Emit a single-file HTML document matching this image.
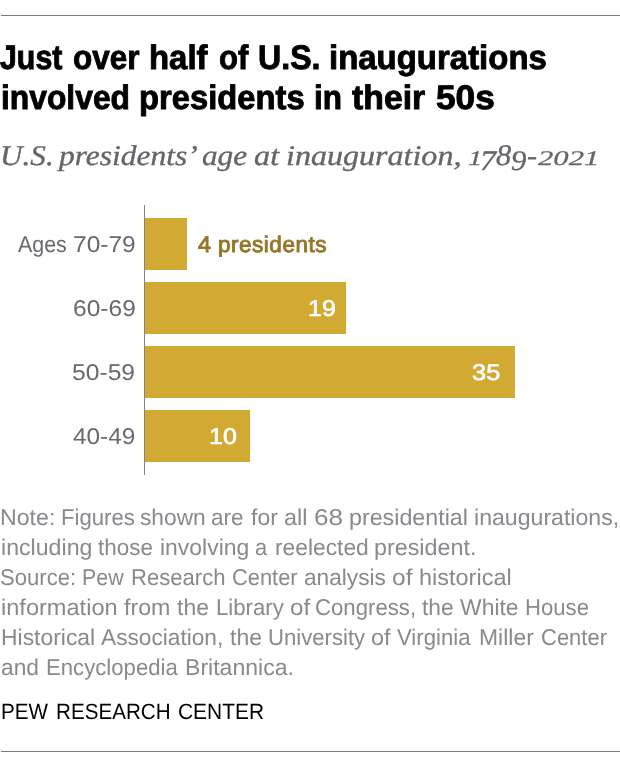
<!DOCTYPE html>
<html lang="en"><head><meta charset="utf-8"><title>Just over half of U.S. inaugurations involved presidents in their 50s</title>
<style>
html,body{margin:0;padding:0;background:#fff;}
body{width:620px;height:766px;position:relative;overflow:hidden;}
h1,h2,p,div.ln{margin:0;padding:0;font-size:inherit;font-weight:inherit;}
.t{position:absolute;white-space:pre;line-height:1;display:block;}
.r{position:absolute;}
#t1 .t{font-family:"Liberation Sans", sans-serif;font-weight:700;font-style:normal;font-size:34px;color:#000;-webkit-text-stroke:0.9px #000;}
#t2 .t{font-family:"Liberation Sans", sans-serif;font-weight:700;font-style:normal;font-size:34px;color:#000;-webkit-text-stroke:0.9px #000;}
#sub .t{font-family:"Liberation Serif", serif;font-weight:400;font-style:italic;font-size:28.5px;color:#63666a;-webkit-text-stroke:0.35px #63666a;}
#l1 .t{font-family:"Liberation Sans", sans-serif;font-weight:400;font-style:normal;font-size:22.8px;color:#676a6e;}
#l2 .t{font-family:"Liberation Sans", sans-serif;font-weight:400;font-style:normal;font-size:22.8px;color:#676a6e;}
#l3 .t{font-family:"Liberation Sans", sans-serif;font-weight:400;font-style:normal;font-size:22.8px;color:#676a6e;}
#l4 .t{font-family:"Liberation Sans", sans-serif;font-weight:400;font-style:normal;font-size:22.8px;color:#676a6e;}
#v1 .t{font-family:"Liberation Sans", sans-serif;font-weight:400;font-style:normal;font-size:22.5px;color:#957628;-webkit-text-stroke:0.9px #957628;}
#v2 .t{font-family:"Liberation Sans", sans-serif;font-weight:400;font-style:normal;font-size:22.7px;color:#fff;-webkit-text-stroke:0.65px #fff;}
#v3 .t{font-family:"Liberation Sans", sans-serif;font-weight:400;font-style:normal;font-size:22.7px;color:#fff;-webkit-text-stroke:0.65px #fff;}
#v4 .t{font-family:"Liberation Sans", sans-serif;font-weight:400;font-style:normal;font-size:22.7px;color:#fff;-webkit-text-stroke:0.65px #fff;}
#n1 .t{font-family:"Liberation Sans", sans-serif;font-weight:400;font-style:normal;font-size:22.8px;color:#878a8e;}
#n2 .t{font-family:"Liberation Sans", sans-serif;font-weight:400;font-style:normal;font-size:22.8px;color:#878a8e;}
#n3 .t{font-family:"Liberation Sans", sans-serif;font-weight:400;font-style:normal;font-size:22.8px;color:#878a8e;}
#n4 .t{font-family:"Liberation Sans", sans-serif;font-weight:400;font-style:normal;font-size:22.8px;color:#878a8e;}
#n5 .t{font-family:"Liberation Sans", sans-serif;font-weight:400;font-style:normal;font-size:22.8px;color:#878a8e;}
#n6 .t{font-family:"Liberation Sans", sans-serif;font-weight:400;font-style:normal;font-size:22.8px;color:#878a8e;}
#pew .t{font-family:"Liberation Sans", sans-serif;font-weight:400;font-style:normal;font-size:22px;color:#000;}
</style></head>
<body>
<div class="r" style="left:1px;top:15px;width:619px;height:1px;background:#7d7d7d"></div>
<div class="r" style="left:145px;top:218.0px;width:41.7px;height:52.05px;background:#d1a933"></div>
<div class="r" style="left:145px;top:281.9px;width:200.5px;height:51.80px;background:#d1a933"></div>
<div class="r" style="left:145px;top:345.5px;width:369.8px;height:52.30px;background:#d1a933"></div>
<div class="r" style="left:145px;top:409.5px;width:105.0px;height:52.30px;background:#d1a933"></div>
<div class="r" style="left:144px;top:205px;width:1px;height:269.7px;background:#808285"></div>
<h1 id="t1"><span class="t" style="left:0.44px;top:40.00px;transform-origin:0 29px;transform:scaleX(0.8919) skewX(0.05deg)">Just </span><span class="t" style="left:72.95px;top:40.00px;transform-origin:0 29px;transform:scaleX(0.9259) skewX(0.05deg)">over </span><span class="t" style="left:149.44px;top:40.00px;transform-origin:0 29px;transform:scaleX(0.9688) skewX(0.05deg)">half </span><span class="t" style="left:218.51px;top:40.00px;transform-origin:0 29px;transform:scaleX(0.9129) skewX(0.05deg)">of </span><span class="t" style="left:258.40px;top:40.00px;transform-origin:0 29px;transform:scaleX(0.9458) skewX(0.05deg)">U.S. </span><span class="t" style="left:329.43px;top:40.00px;transform-origin:0 29px;transform:scaleX(0.9692) skewX(0.05deg)">inaugurations</span></h1>
<h1 id="t2"><span class="t" style="left:0.84px;top:80.00px;transform-origin:0 29px;transform:scaleX(0.9353) skewX(0.05deg)">involved </span><span class="t" style="left:139.43px;top:80.00px;transform-origin:0 29px;transform:scaleX(0.9632) skewX(0.05deg)">presidents </span><span class="t" style="left:314.38px;top:80.00px;transform-origin:0 29px;transform:scaleX(0.9270) skewX(0.05deg)">in </span><span class="t" style="left:351.57px;top:80.00px;transform-origin:0 29px;transform:scaleX(0.9937) skewX(0.05deg)">their </span><span class="t" style="left:435.64px;top:80.00px;transform-origin:0 29px;transform:scaleX(1.0362) skewX(0.05deg)">50s</span></h1>
<h2 id="sub"><span class="t" style="left:0.23px;top:142.00px;transform-origin:0 23px;transform:scaleX(1.0934) skewX(0.05deg)">U.S. </span><span class="t" style="left:59.23px;top:142.00px;transform-origin:0 23px;transform:scaleX(1.1052) skewX(0.05deg)">presidents’ </span><span class="t" style="left:201.72px;top:142.00px;transform-origin:0 23px;transform:scaleX(1.0964) skewX(0.05deg)">age </span><span class="t" style="left:254.05px;top:142.00px;transform-origin:0 23px;transform:scaleX(1.1363) skewX(0.05deg)">at </span><span class="t" style="left:286.25px;top:142.00px;transform-origin:0 23px;transform:scaleX(1.1247) skewX(0.05deg)">inauguration, </span><span class="t" style="left:467.82px;top:142.00px;transform-origin:0 23px;transform:scale(1.0067,0.73) skewX(0.05deg)">1</span><span class="t" style="left:479.65px;top:142.00px;transform-origin:0 23px;transform:translateY(5.0px) scaleX(1.1286) skewX(0.05deg)">7</span><span class="t" style="left:496.23px;top:142.00px;transform-origin:0 23px;transform:scale(1.0698,1.05) skewX(0.05deg)">8</span><span class="t" style="left:511.38px;top:142.00px;transform-origin:0 23px;transform:translateY(5.0px) scaleX(1.0783) skewX(0.05deg)">9</span><span class="t" style="left:527.05px;top:142.00px;transform-origin:0 23px;transform:scaleX(1.0619) skewX(0.05deg)">-</span><span class="t" style="left:537.55px;top:142.00px;transform-origin:0 23px;transform:scale(1.0786,0.73) skewX(0.05deg)">2021</span></h2>
<div id="l1" class="ln"><span class="t" style="left:17.74px;top:233.00px;transform-origin:0 19px;transform:scaleX(0.9396) skewX(0.05deg)">Ages </span><span class="t" style="left:72.90px;top:233.00px;transform-origin:0 19px;transform:scaleX(1.0759) skewX(0.05deg)">70-79</span></div>
<div id="l2" class="ln"><span class="t" style="left:72.78px;top:297.40px;transform-origin:0 19px;transform:scaleX(1.0774) skewX(0.05deg)">60-69</span></div>
<div id="l3" class="ln"><span class="t" style="left:72.39px;top:361.30px;transform-origin:0 19px;transform:scaleX(1.0819) skewX(0.05deg)">50-59</span></div>
<div id="l4" class="ln"><span class="t" style="left:73.13px;top:425.00px;transform-origin:0 19px;transform:scaleX(1.0696) skewX(0.05deg)">40-49</span></div>
<div id="v1" class="ln"><span class="t" style="left:197.56px;top:234.00px;transform-origin:0 18px;transform:scaleX(1.0412) skewX(0.05deg)">4 </span><span class="t" style="left:218.27px;top:234.00px;transform-origin:0 18px;transform:scaleX(1.0019) skewX(0.05deg);letter-spacing:0.5px">presidents</span></div>
<div id="v2" class="ln"><span class="t" style="left:308.26px;top:297.00px;transform-origin:0 19px;transform:scaleX(1.1017) skewX(0.05deg)">19</span></div>
<div id="v3" class="ln"><span class="t" style="left:471.81px;top:361.00px;transform-origin:0 19px;transform:scaleX(1.1195) skewX(0.05deg)">35</span></div>
<div id="v4" class="ln"><span class="t" style="left:209.34px;top:425.00px;transform-origin:0 19px;transform:scaleX(1.1012) skewX(0.05deg)">10</span></div>
<p id="n1"><span class="t" style="left:0.10px;top:505.90px;transform-origin:0 19px;transform:scaleX(1.0153) skewX(0.05deg)">Note: </span><span class="t" style="left:60.82px;top:505.90px;transform-origin:0 19px;transform:scaleX(0.9717) skewX(0.05deg)">Figures </span><span class="t" style="left:140.13px;top:505.90px;transform-origin:0 19px;transform:scaleX(0.9976) skewX(0.05deg)">shown </span><span class="t" style="left:211.27px;top:505.90px;transform-origin:0 19px;transform:scaleX(0.9878) skewX(0.05deg)">are </span><span class="t" style="left:251.23px;top:505.90px;transform-origin:0 19px;transform:scaleX(1.0090) skewX(0.05deg)">for </span><span class="t" style="left:284.25px;top:505.90px;transform-origin:0 19px;transform:scaleX(1.0254) skewX(0.05deg)">all </span><span class="t" style="left:314.11px;top:505.90px;transform-origin:0 19px;transform:scaleX(1.1446) skewX(0.05deg)">68 </span><span class="t" style="left:349.43px;top:505.90px;transform-origin:0 19px;transform:scaleX(1.0199) skewX(0.05deg)">presidential </span><span class="t" style="left:474.06px;top:505.90px;transform-origin:0 19px;transform:scaleX(1.0138) skewX(0.05deg)">inaugurations,</span></p>
<p id="n2"><span class="t" style="left:0.80px;top:535.90px;transform-origin:0 19px;transform:scaleX(1.0155) skewX(0.05deg)">including </span><span class="t" style="left:98.20px;top:535.90px;transform-origin:0 19px;transform:scaleX(0.9839) skewX(0.05deg)">those </span><span class="t" style="left:159.76px;top:535.90px;transform-origin:0 19px;transform:scaleX(1.0062) skewX(0.05deg)">involving </span><span class="t" style="left:255.30px;top:535.90px;transform-origin:0 19px;transform:scaleX(0.9602) skewX(0.05deg)">a </span><span class="t" style="left:274.77px;top:535.90px;transform-origin:0 19px;transform:scaleX(0.9997) skewX(0.05deg)">reelected </span><span class="t" style="left:374.43px;top:535.90px;transform-origin:0 19px;transform:scaleX(1.0230) skewX(0.05deg)">president.</span></p>
<p id="n3"><span class="t" style="left:0.45px;top:565.90px;transform-origin:0 19px;transform:scaleX(0.9702) skewX(0.05deg)">Source: </span><span class="t" style="left:82.42px;top:565.90px;transform-origin:0 19px;transform:scaleX(0.9378) skewX(0.05deg)">Pew </span><span class="t" style="left:130.83px;top:565.90px;transform-origin:0 19px;transform:scaleX(0.9683) skewX(0.05deg)">Research </span><span class="t" style="left:232.07px;top:565.90px;transform-origin:0 19px;transform:scaleX(0.9594) skewX(0.05deg)">Center </span><span class="t" style="left:304.36px;top:565.90px;transform-origin:0 19px;transform:scaleX(0.9943) skewX(0.05deg)">analysis </span><span class="t" style="left:392.16px;top:565.90px;transform-origin:0 19px;transform:scaleX(1.0761) skewX(0.05deg)">of </span><span class="t" style="left:419.20px;top:565.90px;transform-origin:0 19px;transform:scaleX(1.0301) skewX(0.05deg)">historical</span></p>
<p id="n4"><span class="t" style="left:1.31px;top:596.00px;transform-origin:0 19px;transform:scaleX(1.0341) skewX(0.05deg)">information </span><span class="t" style="left:123.80px;top:596.00px;transform-origin:0 19px;transform:scaleX(1.0183) skewX(0.05deg)">from </span><span class="t" style="left:176.77px;top:596.00px;transform-origin:0 19px;transform:scaleX(1.0088) skewX(0.05deg)">the </span><span class="t" style="left:215.83px;top:596.00px;transform-origin:0 19px;transform:scaleX(0.9726) skewX(0.05deg)">Library </span><span class="t" style="left:289.58px;top:596.00px;transform-origin:0 19px;transform:scaleX(1.0582) skewX(0.05deg)">of </span><span class="t" style="left:315.36px;top:596.00px;transform-origin:0 19px;transform:scaleX(0.9728) skewX(0.05deg)">Congress, </span><span class="t" style="left:421.70px;top:596.00px;transform-origin:0 19px;transform:scaleX(0.9985) skewX(0.05deg)">the </span><span class="t" style="left:459.62px;top:596.00px;transform-origin:0 19px;transform:scaleX(1.0057) skewX(0.05deg)">White </span><span class="t" style="left:524.74px;top:596.00px;transform-origin:0 19px;transform:scaleX(0.9711) skewX(0.05deg)">House</span></p>
<p id="n5"><span class="t" style="left:1.13px;top:626.00px;transform-origin:0 19px;transform:scaleX(1.0050) skewX(0.05deg)">Historical </span><span class="t" style="left:101.39px;top:626.00px;transform-origin:0 19px;transform:scaleX(0.9948) skewX(0.05deg)">Association, </span><span class="t" style="left:229.77px;top:626.00px;transform-origin:0 19px;transform:scaleX(1.0088) skewX(0.05deg)">the </span><span class="t" style="left:267.50px;top:626.00px;transform-origin:0 19px;transform:scaleX(0.9707) skewX(0.05deg)">University </span><span class="t" style="left:371.37px;top:626.00px;transform-origin:0 19px;transform:scaleX(1.0281) skewX(0.05deg)">of </span><span class="t" style="left:397.06px;top:626.00px;transform-origin:0 19px;transform:scaleX(0.9714) skewX(0.05deg)">Virginia </span><span class="t" style="left:478.66px;top:626.00px;transform-origin:0 19px;transform:scaleX(1.0063) skewX(0.05deg)">Miller </span><span class="t" style="left:541.13px;top:626.00px;transform-origin:0 19px;transform:scaleX(0.9648) skewX(0.05deg)">Center</span></p>
<p id="n6"><span class="t" style="left:1.37px;top:656.20px;transform-origin:0 19px;transform:scaleX(0.9990) skewX(0.05deg)">and </span><span class="t" style="left:45.80px;top:656.20px;transform-origin:0 19px;transform:scaleX(0.9722) skewX(0.05deg)">Encyclopedia </span><span class="t" style="left:185.08px;top:656.20px;transform-origin:0 19px;transform:scaleX(1.0119) skewX(0.05deg)">Britannica.</span></p>
<p id="pew"><span class="t" style="left:0.73px;top:701.20px;transform-origin:0 18px;transform:scaleX(0.9375) skewX(0.05deg)">PEW </span><span class="t" style="left:55.79px;top:701.20px;transform-origin:0 18px;transform:scaleX(0.9379) skewX(0.05deg)">RESEARCH </span><span class="t" style="left:177.79px;top:701.20px;transform-origin:0 18px;transform:scaleX(0.9508) skewX(0.05deg)">CENTER</span></p>
<div class="r" style="left:1px;top:751px;width:619px;height:1px;background:#7d7d7d"></div>
</body></html>
